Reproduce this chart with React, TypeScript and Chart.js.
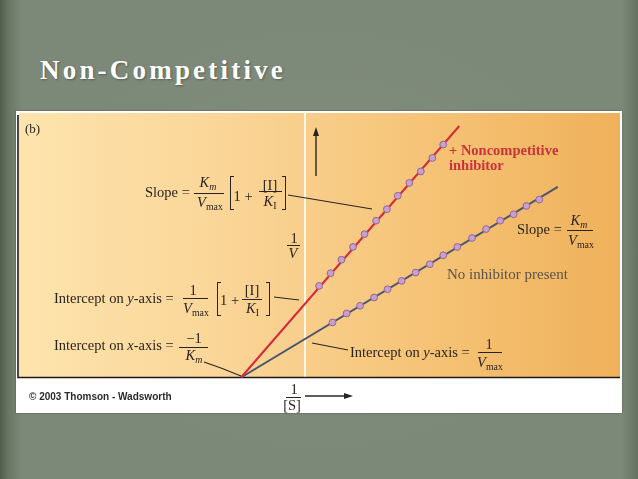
import React, { useEffect, useRef } from "react";
import { Chart, registerables } from "chart.js";

Chart.register(...registerables);

// 1/[S] and 1/V values (units: -1/Km = -1)
const inhibitorX = [0.22, 0.40, 0.57, 0.75, 0.93, 1.11, 1.28, 1.45, 1.63, 1.81, 1.99, 2.16];
const inhibitorY = [1.43, 1.63, 1.84, 2.04, 2.24, 2.45, 2.63, 2.84, 3.04, 3.22, 3.43, 3.64];
const noInhibX = [0.43, 0.65, 0.86, 1.08, 1.29, 1.51, 1.73, 1.95, 2.16, 2.38, 2.61, 2.83, 3.05, 3.26, 3.46, 3.66];
const noInhibY = [0.86, 1.0, 1.12, 1.25, 1.38, 1.51, 1.64, 1.77, 1.91, 2.04, 2.18, 2.32, 2.45, 2.55, 2.68, 2.78];
const inhibitorLineX = [-1, 2.41];
const inhibitorLineY = [0, 3.93];
const noInhibLineX = [-1, 3.95];
const noInhibLineY = [0, 2.98];
const xRange = [-4.469, 4.922];
const yRange = [0, 4.133];

const serif = '"Liberation Serif", "Times New Roman", serif';
const ink = "#2a2420";

const zip = (xs: number[], ys: number[]) => xs.map((x, i) => ({ x, y: ys[i] }));

const deco = {
  id: "deco",
  beforeDatasetsDraw(chart: any) {
    const { ctx, chartArea, scales } = chart;
    const { left, top, right, bottom } = chartArea;
    ctx.save();
    const g = ctx.createLinearGradient(left, 0, right, 0);
    g.addColorStop(0, "#fde4ad");
    g.addColorStop(0.35, "#fad597");
    g.addColorStop(0.7, "#f5c274");
    g.addColorStop(1, "#efb15b");
    ctx.fillStyle = g;
    ctx.fillRect(left, top, right - left, bottom - top);
    // y-axis (white line)
    const x0 = scales.x.getPixelForValue(0);
    ctx.strokeStyle = "rgba(255,250,236,0.95)";
    ctx.lineWidth = 2;
    ctx.beginPath();
    ctx.moveTo(x0, top);
    ctx.lineTo(x0, bottom);
    ctx.stroke();
    // frame lines
    ctx.strokeStyle = "#1d1a16";
    ctx.lineWidth = 1.6;
    ctx.beginPath();
    ctx.moveTo(left - 1, top + 2);
    ctx.lineTo(left - 1, bottom);
    ctx.lineTo(right, bottom);
    ctx.stroke();
    // leader lines
    ctx.strokeStyle = "#2a2420";
    ctx.lineWidth = 1.1;
    const seg = (a: number, b: number, c: number, d: number) => {
      ctx.beginPath();
      ctx.moveTo(a, b);
      ctx.lineTo(c, d);
      ctx.stroke();
    };
    seg(288, 195, 372, 209);
    seg(274, 297, 299, 300);
    ctx.beginPath();
    ctx.moveTo(204, 362);
    ctx.quadraticCurveTo(222, 368, 241, 376);
    ctx.stroke();
    seg(312, 343, 348, 350);
    // arrows
    ctx.lineWidth = 1.4;
    seg(316, 176, 316, 132);
    ctx.fillStyle = "#2a2420";
    ctx.beginPath();
    ctx.moveTo(316, 127);
    ctx.lineTo(313, 136);
    ctx.lineTo(319, 136);
    ctx.closePath();
    ctx.fill();
    seg(305, 396, 348, 396);
    ctx.beginPath();
    ctx.moveTo(353, 396);
    ctx.lineTo(344, 393);
    ctx.lineTo(344, 399);
    ctx.closePath();
    ctx.fill();
    ctx.restore();
  },
};

function T(props: any) {
  const { x, y, c, s = 14.5, i, b, col = ink, ls, fam = serif, children } = props;
  return (
    <div
      style={{
        position: "absolute",
        left: x,
        top: y,
        transform: `translate(${c ? "-50%" : "0"}, -50%)`,
        fontFamily: fam,
        fontSize: s,
        fontStyle: i ? "italic" : "normal",
        fontWeight: b ? 700 : 400,
        color: col,
        lineHeight: 1,
        whiteSpace: "nowrap",
        letterSpacing: ls,
      }}
    >
      {children}
    </div>
  );
}

function Sub(props: any) {
  return (
    <span style={{ fontSize: "0.68em", verticalAlign: "-0.3em", lineHeight: 0, fontStyle: props.i ? "italic" : "normal" }}>
      {props.children}
    </span>
  );
}

function Bar(props: any) {
  const { x1, x2, y } = props;
  return <div style={{ position: "absolute", left: x1, top: y - 0.5, width: x2 - x1, height: 1, background: ink }} />;
}

function Bracket(props: any) {
  const { x, y1, y2, side } = props;
  const st: any = {
    position: "absolute",
    left: side === "l" ? x : x - 4,
    top: y1,
    width: 4,
    height: y2 - y1,
    boxSizing: "border-box",
    borderTop: `1.2px solid ${ink}`,
    borderBottom: `1.2px solid ${ink}`,
  };
  if (side === "l") st.borderLeft = `1.3px solid ${ink}`;
  else st.borderRight = `1.3px solid ${ink}`;
  return <div style={st} />;
}

const Km = () => (
  <>
    <i>K</i>
    <Sub i>m</Sub>
  </>
);
const Vmax = () => (
  <>
    <i>V</i>
    <Sub>max</Sub>
  </>
);
const KI = () => (
  <>
    <i>K</i>
    <Sub>I</Sub>
  </>
);

export default function App() {
  const ref = useRef<HTMLCanvasElement>(null);
  useEffect(() => {
    if (!ref.current) return;
    const chart = new Chart(ref.current, {
      type: "scatter",
      data: {
        datasets: [
          {
            label: "+ Noncompetitive inhibitor",
            data: zip(inhibitorX, inhibitorY),
            pointRadius: 3.4,
            pointBackgroundColor: "#c9a0cd",
            pointBorderColor: "#946598",
            pointBorderWidth: 1,
            showLine: false,
            order: 0,
            clip: false,
          } as any,
          {
            label: "No inhibitor present",
            data: zip(noInhibX, noInhibY),
            pointRadius: 3.4,
            pointBackgroundColor: "#c9a0cd",
            pointBorderColor: "#946598",
            pointBorderWidth: 1,
            showLine: false,
            order: 0,
            clip: false,
          } as any,
          {
            label: "inhibitor line",
            data: zip(inhibitorLineX, inhibitorLineY),
            showLine: true,
            borderColor: "#d42a3c",
            borderWidth: 2,
            pointRadius: 0,
            order: 1,
            clip: false,
          } as any,
          {
            label: "no inhibitor line",
            data: zip(noInhibLineX, noInhibLineY),
            showLine: true,
            borderColor: "#4a5470",
            borderWidth: 2,
            pointRadius: 0,
            order: 1,
            clip: false,
          } as any,
        ],
      },
      options: {
        animation: false,
        responsive: false,
        events: [],
        layout: { padding: { left: 19, right: 18, top: 113, bottom: 101.5 } },
        plugins: { legend: { display: false }, tooltip: { enabled: false }, title: { display: false } },
        scales: {
          x: { type: "linear", min: xRange[0], max: xRange[1], display: false },
          y: { type: "linear", min: yRange[0], max: yRange[1], display: false },
        },
      },
      plugins: [deco],
    });
    return () => chart.destroy();
  }, []);

  return (
    <div
      style={{
        position: "fixed",
        left: 0,
        top: 0,
        width: 638,
        height: 479,
        overflow: "hidden",
        background:
          "radial-gradient(ellipse at 50% 50%, rgba(255,255,255,0.06), rgba(0,0,0,0) 65%)," +
          "linear-gradient(to right, rgba(35,55,30,0.5) 0px, rgba(35,55,30,0.2) 9px, rgba(0,0,0,0) 22px)," +
          "linear-gradient(to left, rgba(35,50,30,0.25) 0px, rgba(0,0,0,0) 16px)," +
          "#7c8878",
      }}
    >
      <T x={40} y={70} s={27} ls={3.2} b col="#ffffff">
        <span style={{ textShadow: "1px 1px 2px rgba(0,0,0,0.3)" }}>Non-Competitive</span>
      </T>
      <div
        style={{
          position: "absolute",
          left: 16,
          top: 111,
          width: 606,
          height: 302,
          background: "#ffffff",
          boxShadow: "0 0 2px rgba(0,0,0,0.35)",
        }}
      />
      <canvas ref={ref} width={638} height={479} style={{ position: "absolute", left: 0, top: 0, width: 638, height: 479 }} />

      <T x={25} y={128} s={13}>(b)</T>

      {/* Slope (with inhibitor) */}
      <T x={145} y={192}>Slope =</T>
      <T x={208} y={182} c><Km /></T>
      <Bar x1={194} x2={224} y={193} />
      <T x={210} y={202} c><Vmax /></T>
      <Bracket x={230} y1={176} y2={210} side="l" />
      <T x={233.5} y={196}>1 +</T>
      <T x={270} y={185} c>[I]</T>
      <Bar x1={259} x2={282} y={191.7} />
      <T x={270} y={201} c><KI /></T>
      <Bracket x={286} y1={176} y2={210} side="r" />

      {/* 1/V */}
      <T x={294} y={238} c>1</T>
      <Bar x1={287} x2={300} y={245} />
      <T x={293} y={253} c i>V</T>

      {/* Intercept on y-axis (inhibitor) */}
      <T x={54} y={298}>Intercept on <i>y</i>-axis =</T>
      <T x={193} y={290} c>1</T>
      <Bar x1={183} x2={208} y={298.5} />
      <T x={196} y={308} c><Vmax /></T>
      <Bracket x={216.5} y1={282} y2={316} side="l" />
      <T x={220} y={300}>1 +</T>
      <T x={252} y={290} c>[I]</T>
      <Bar x1={242} x2={262} y={299} />
      <T x={252.5} y={308} c><KI /></T>
      <Bracket x={269.5} y1={282} y2={316} side="r" />

      {/* Intercept on x-axis */}
      <T x={54} y={345}>Intercept on <i>x</i>-axis =</T>
      <T x={194} y={338} c>−1</T>
      <Bar x1={179} x2={208} y={347} />
      <T x={194} y={355} c><Km /></T>

      {/* right side labels */}
      <T x={449} y={150} b col="#c8333c">+ Noncompetitive</T>
      <T x={449} y={165} b col="#c8333c">inhibitor</T>

      <T x={517} y={229}>Slope =</T>
      <T x={579} y={220} c><Km /></T>
      <Bar x1={567} x2={593} y={230} />
      <T x={581} y={240} c><Vmax /></T>

      <T x={447} y={274} s={15} col="#5b5347">No inhibitor present</T>

      <T x={350} y={352}>Intercept on <i>y</i>-axis =</T>
      <T x={489} y={344} c>1</T>
      <Bar x1={478} x2={502} y={352} />
      <T x={490} y={362} c><Vmax /></T>

      {/* bottom strip */}
      <T x={29} y={397} s={10} b col="#2b2b2b" fam={'"Liberation Sans", Arial, sans-serif'}>
        © 2003 Thomson - Wadsworth
      </T>
      <T x={294} y={389} c>1</T>
      <Bar x1={286} x2={301} y={397} />
      <T x={292} y={405} c>[S]</T>
    </div>
  );
}
